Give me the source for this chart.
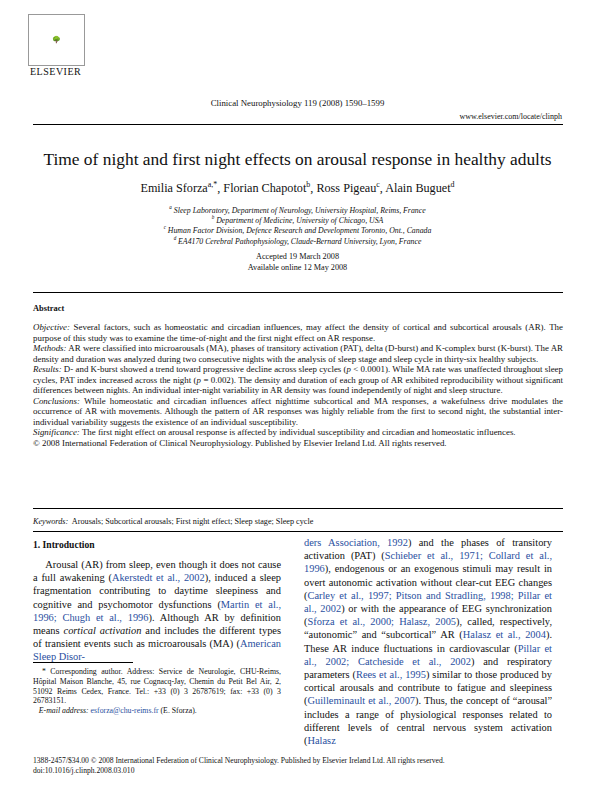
<!DOCTYPE html>
<html><head><meta charset="utf-8">
<script src="https://cdn.jsdelivr.net/npm/chart.js@4"></script>
<style>
body{margin:0;width:595px;height:794px;position:relative;font-family:"Liberation Serif",serif;color:#111;background:#fff;overflow:hidden}
.a{position:absolute}
.hr{position:absolute;left:33px;width:530px;border-top:0.8px solid #000}
.col{position:absolute;width:248px;font-size:10.4px;line-height:13.2px;text-align:justify}
.l{color:#2a4fa0}
p{margin:0}
sup{line-height:0;font-size:0.65em;vertical-align:super}
</style></head><body>
<div class="a" style="left:28px;top:14px;width:55px;height:50px;border:1px solid #999;font-size:7px;color:#666;text-align:center;line-height:50px">🌳</div>
<div class="a" style="left:30px;top:66px;font-size:10px;letter-spacing:0.5px">ELSEVIER</div>
<div class="a" style="left:0;width:595px;top:98px;text-align:center;font-size:8.8px">Clinical Neurophysiology 119 (2008) 1590–1599</div>
<div class="a" style="right:33px;top:112px;font-size:8px">www.elsevier.com/locate/clinph</div>
<div class="hr" style="top:124px"></div>
<div class="a" style="left:0;width:595px;top:149px;text-align:center;font-size:17.4px">Time of night and first night effects on arousal response in healthy adults</div>
<div class="a" style="left:0;width:595px;top:181px;text-align:center;font-size:12.2px">Emilia Sforza<sup>a,*</sup>, Florian Chapotot<sup>b</sup>, Ross Pigeau<sup>c</sup>, Alain Buguet<sup>d</sup></div>
<div class="a" style="left:0;width:595px;top:206px;text-align:center;font-size:7.8px;line-height:10.2px;font-style:italic">
<sup>a</sup> Sleep Laboratory, Department of Neurology, University Hospital, Reims, France<br>
<sup>b</sup> Department of Medicine, University of Chicago, USA<br>
<sup>c</sup> Human Factor Division, Defence Research and Development Toronto, Ont., Canada<br>
<sup>d</sup> EA4170 Cerebral Pathophysiology, Claude-Bernard University, Lyon, France</div>
<div class="a" style="left:0;width:595px;top:252px;text-align:center;font-size:8.2px;line-height:10.5px">Accepted 19 March 2008<br>Available online 12 May 2008</div>
<div class="hr" style="top:292px"></div>
<div class="a" style="left:33px;top:304px;font-size:8.4px;font-weight:bold">Abstract</div>
<div class="a" style="left:33px;width:530px;top:322px;font-size:8.9px;line-height:10.5px;text-align:justify">
<p><i>Objective:</i> Several factors, such as homeostatic and circadian influences, may affect the density of cortical and subcortical arousals (AR). The purpose of this study was to examine the time-of-night and the first night effect on AR response.</p>
<p><i>Methods:</i> AR were classified into microarousals (MA), phases of transitory activation (PAT), delta (D-burst) and K-complex burst (K-burst). The AR density and duration was analyzed during two consecutive nights with the analysis of sleep stage and sleep cycle in thirty-six healthy subjects.</p>
<p><i>Results:</i> D- and K-burst showed a trend toward progressive decline across sleep cycles (<i>p</i> &lt; 0.0001). While MA rate was unaffected throughout sleep cycles, PAT index increased across the night (<i>p</i> = 0.002). The density and duration of each group of AR exhibited reproducibility without significant differences between nights. An individual inter-night variability in AR density was found independently of night and sleep structure.</p>
<p><i>Conclusions:</i> While homeostatic and circadian influences affect nighttime subcortical and MA responses, a wakefulness drive modulates the occurrence of AR with movements. Although the pattern of AR responses was highly reliable from the first to second night, the substantial inter-individual variability suggests the existence of an individual susceptibility.</p>
<p><i>Significance:</i> The first night effect on arousal response is affected by individual susceptibility and circadian and homeostatic influences.<br>© 2008 International Federation of Clinical Neurophysiology. Published by Elsevier Ireland Ltd. All rights reserved.</p>
</div>
<div class="hr" style="top:508px"></div>
<div class="a" style="left:33px;top:517px;font-size:8.2px"><i>Keywords:</i>&nbsp; Arousals; Subcortical arousals; First night effect; Sleep stage; Sleep cycle</div>
<div class="hr" style="top:531px"></div>
<div class="a" style="left:33px;top:539px;font-size:9.6px;font-weight:bold">1. Introduction</div>
<div class="col" style="left:33px;top:558px">&nbsp;&nbsp;&nbsp;&nbsp;Arousal (AR) from sleep, even though it does not cause a full awakening (<span class="l">Akerstedt et al., 2002</span>), induced a sleep fragmentation contributing to daytime sleepiness and cognitive and psychomotor dysfunctions (<span class="l">Martin et al., 1996; Chugh et al., 1996</span>). Although AR by definition means <i>cortical activation</i> and includes the different types of transient events such as microarousals (MA) (<span class="l">American Sleep Disor-</span></div>
<div class="a" style="left:33px;top:662px;width:100px;border-top:0.6px solid #000"></div>
<div class="a" style="left:33px;width:248px;top:667px;font-size:7.8px;line-height:9.8px;text-align:justify">&nbsp;&nbsp;* Corresponding author. Address: Service de Neurologie, CHU-Reims, Hôpital Maison Blanche, 45, rue Cognacq-Jay, Chemin du Petit Bel Air, 2, 51092 Reims Cedex, France. Tel.: +33 (0) 3 26787619; fax: +33 (0) 3 26783151.<br>&nbsp;&nbsp;&nbsp;<i>E-mail address:</i> <span class="l">esforza@chu-reims.fr</span> (E. Sforza).</div>
<div class="col" style="left:304px;top:536px"><span class="l">ders Association, 1992</span>) and the phases of transitory activation (PAT) (<span class="l">Schieber et al., 1971; Collard et al., 1996</span>), endogenous or an exogenous stimuli may result in overt autonomic activation without clear-cut EEG changes (<span class="l">Carley et al., 1997; Pitson and Stradling, 1998; Pillar et al., 2002</span>) or with the appearance of EEG synchronization (<span class="l">Sforza et al., 2000; Halasz, 2005</span>), called, respectively, “autonomic” and “subcortical” AR (<span class="l">Halasz et al., 2004</span>). These AR induce fluctuations in cardiovascular (<span class="l">Pillar et al., 2002; Catcheside et al., 2002</span>) and respiratory parameters (<span class="l">Rees et al., 1995</span>) similar to those produced by cortical arousals and contribute to fatigue and sleepiness (<span class="l">Guilleminault et al., 2007</span>). Thus, the concept of “arousal” includes a range of physiological responses related to different levels of central nervous system activation (<span class="l">Halasz</span></div>
<div class="a" style="left:33px;top:756px;font-size:7.6px;line-height:9.6px">1388-2457/$34.00 © 2008 International Federation of Clinical Neurophysiology. Published by Elsevier Ireland Ltd. All rights reserved.<br>doi:10.1016/j.clinph.2008.03.010</div>
</body></html>
